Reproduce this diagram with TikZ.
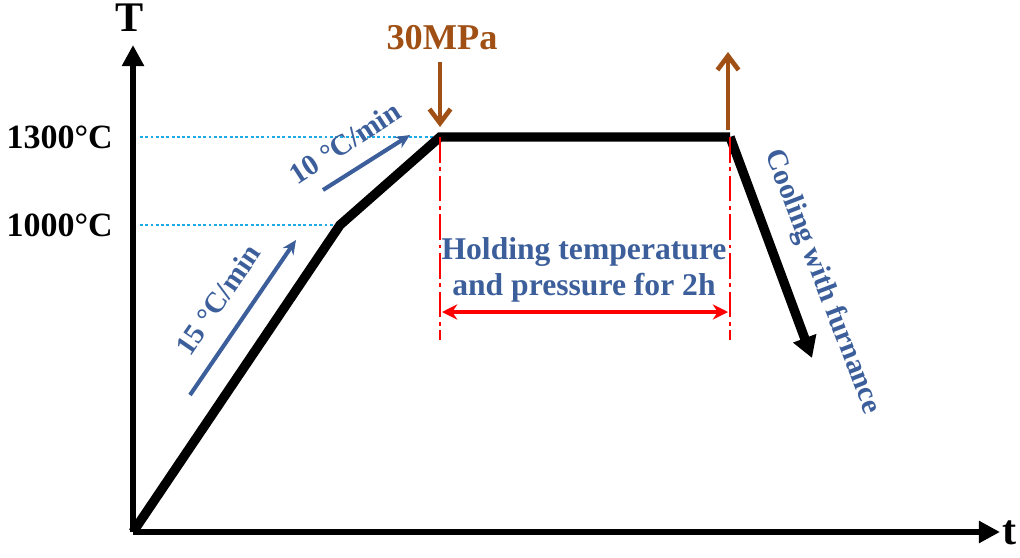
\documentclass[tikz,border=0pt]{standalone}
\usepackage{fontspec}
\setmainfont{Liberation Serif}
\usetikzlibrary{arrows.meta}
\definecolor{tblue}{RGB}{60,95,155}
\definecolor{brn}{RGB}{160,80,20}
\definecolor{dot}{RGB}{30,170,230}
\tikzset{
  axis/.style={line width=5pt,-{Triangle[length=18pt,width=18pt]}},
  curve/.style={line width=8pt,line join=miter},
  lbl/.style={font=\bfseries\fontsize{25}{29}\selectfont,text=tblue,align=center},
  rate/.style={tblue,line width=3.5pt,-{Stealth[length=12pt,width=11pt]}},
  press/.style={brn,line width=4pt,-{Straight Barb[length=12pt,width=18pt]}},
  hold/.style={red,line width=2.5pt,dash pattern=on 22pt off 4pt on 3pt off 4pt},
}
\begin{document}
\begin{tikzpicture}[x=0.03cm,y=-0.03cm]
\useasboundingbox (0,0) rectangle (1020,557);
\coordinate (O) at (133,532);
\coordinate (Ytop) at (133,45);
\coordinate (Xend) at (1000,532);
\coordinate (A) at (340,225);
\coordinate (B) at (440,137);
\coordinate (C) at (730,137);
\coordinate (D) at (812,358);
\draw[dot,line width=2.5pt,dotted] (140,137) -- (B);
\draw[dot,line width=2.5pt,dotted] (140,225) -- (A);
\draw[axis] (O) -- (Ytop);
\draw[axis] (O) -- (Xend);
\node[font=\bfseries\fontsize{36}{38}\selectfont] (T) at (130,18) {T};
\node[font=\bfseries\fontsize{36}{38}\selectfont] (t) at (1010,533) {t};
\node[font=\bfseries\fontsize{29}{31}\selectfont,anchor=east,inner sep=0pt] (l1300) at (113,137) {1300°C};
\node[font=\bfseries\fontsize{29}{31}\selectfont,anchor=east,inner sep=0pt] (l1000) at (113,225) {1000°C};
\draw[curve] (O) -- (A) -- (B) -- (C);
\draw[curve,-{Triangle[length=18pt,width=20pt]}] (C) -- (D);
\coordinate (H1) at (440,340);
\coordinate (H2) at (730,340);
\draw[hold] (B) -- (H1);
\draw[hold] (C) -- (H2);
\coordinate (R1) at (442,312);
\coordinate (R2) at (728,312);
\draw[red,line width=3.5pt,{Stealth[length=13pt,width=13pt]}-{Stealth[length=13pt,width=13pt]}] (R1) -- (R2);
\node[font=\bfseries\fontsize{27}{31}\selectfont,text=tblue,align=center] (holdtxt) at (584,270) {Holding temperature\\and pressure for 2h};
\node[font=\bfseries\fontsize{31}{33}\selectfont,text=brn] (mpa) at (442,38) {30MPa};
\coordinate (P1) at (440,62);
\coordinate (P2) at (440,127);
\draw[press] (P1) -- (P2);
\coordinate (U1) at (728,130);
\coordinate (U2) at (728,52);
\draw[press] (U1) -- (U2);
\coordinate (a1) at (190,395);
\coordinate (a2) at (296,240);
\draw[rate] (a1) -- (a2);
\node[lbl,rotate=55.6] (r15) at (218,300) {15 °C/min};
\coordinate (b1) at (323,190);
\coordinate (b2) at (410,135);
\draw[rate] (b1) -- (b2);
\node[lbl,rotate=33] (r10) at (345,143) {10 °C/min};
\node[lbl,rotate=-69] (cool) at (822,282) {Cooling with furnance};
\end{tikzpicture}
\end{document}
